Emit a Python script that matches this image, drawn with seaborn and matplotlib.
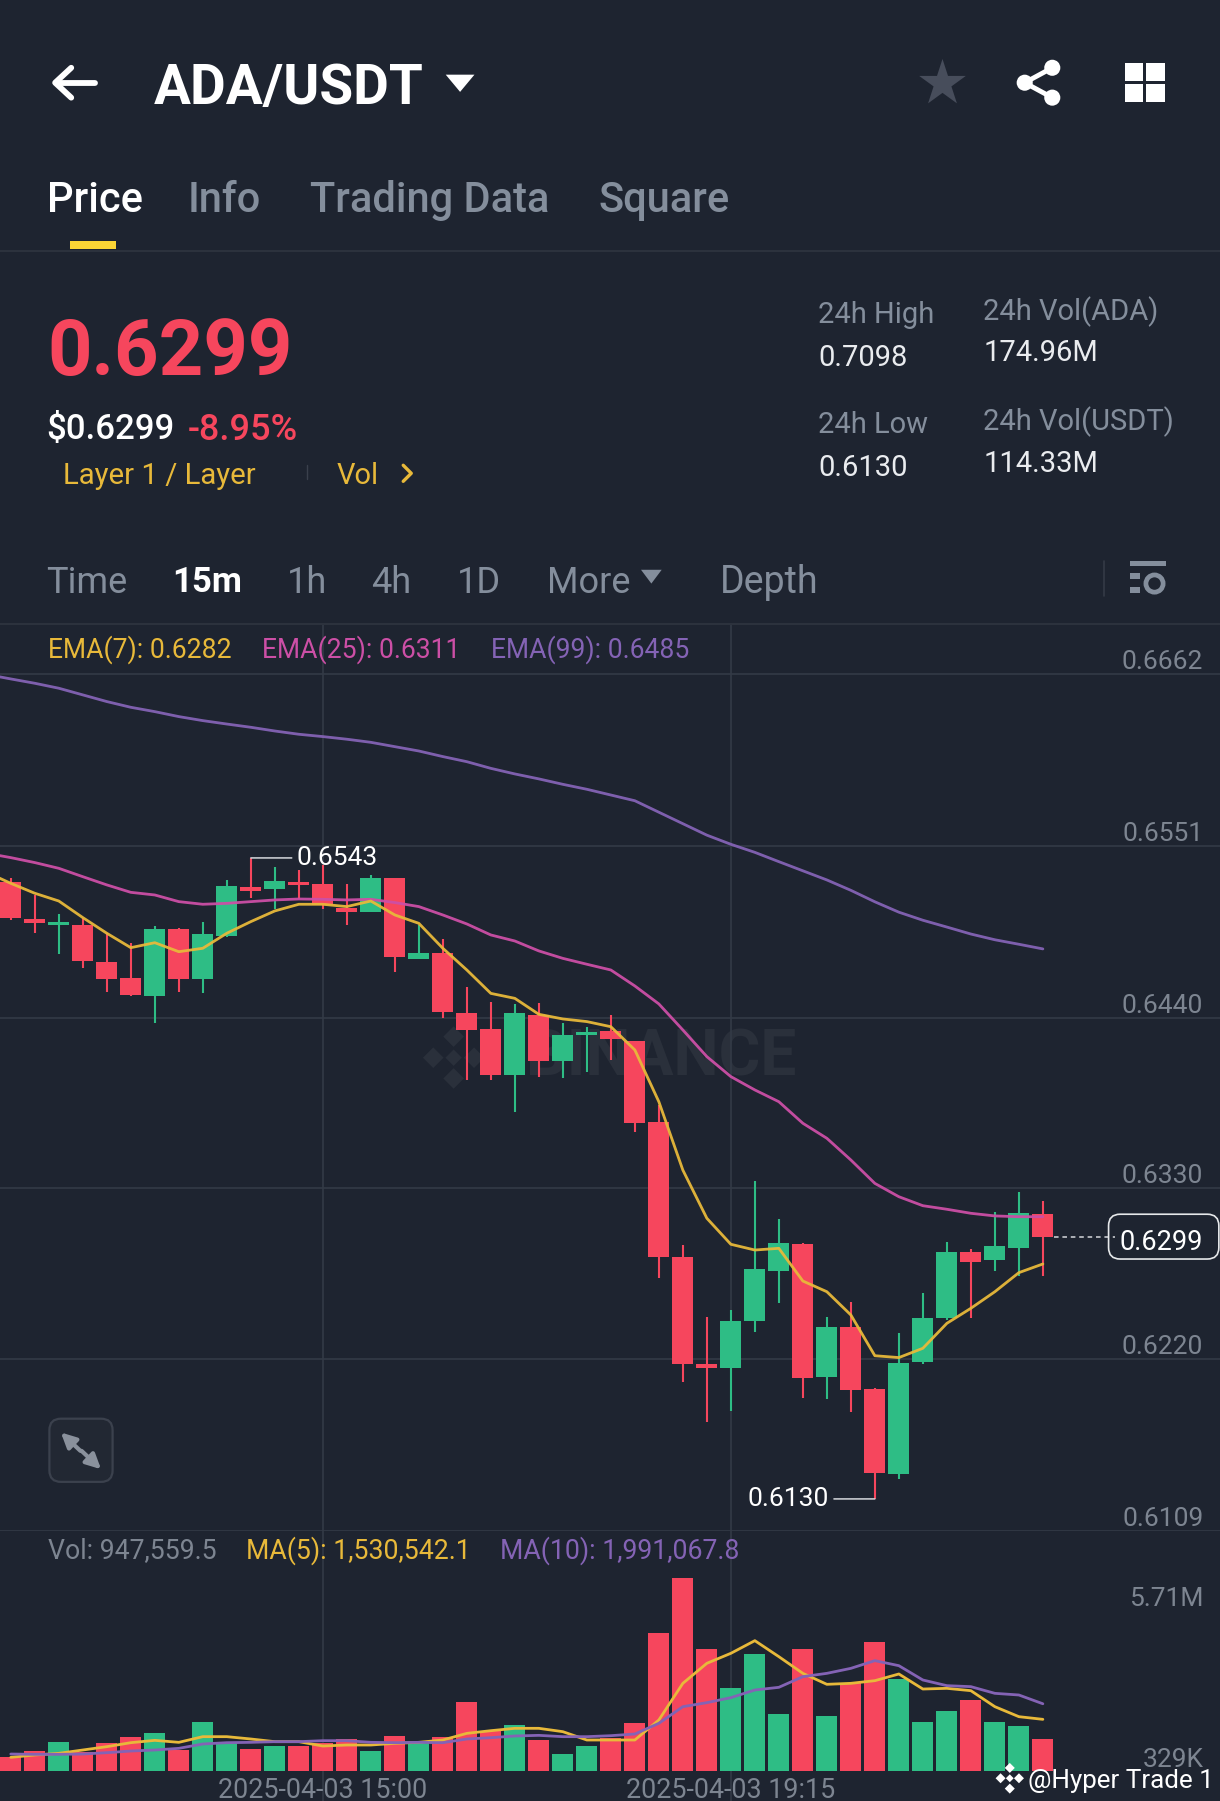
import numpy as np
import pandas as pd
import seaborn as sns
import matplotlib
matplotlib.use("Agg")
import matplotlib.pyplot as plt
from matplotlib.patches import Circle, FancyBboxPatch, Polygon, Rectangle
from matplotlib.transforms import ScaledTranslation

# ---------- data ----------
direction = ["d","d","u","d","d","d","u","d","u","u","d","u","d","d","d","u","d","u","d","d","d","u",
             "d","u","u","d","d","d","d","d","u","u","u","d","u","d","d","u","u","u","d","u","u","d"]
high = [.65302,.65194,.65071,.65043,.64947,.64882,.64994,.64983,.65022,.65291,.65433,.65373,.65355,.65388,
        .65265,.65323,.65302,.65000,.64910,.64603,.64501,.64491,.64495,.64366,.64340,.64420,
        .64252,.63839,.62936,.62473,.62516,.63349,.63101,.62951,.62469,.62570,.62015,.62366,.62628,.62957,
        .62907,.63146,.63280,.63219]
body_top = [.65280,.65041,.65022,.65000,.64760,.64661,.64973,.64973,.64940,.65254,.65244,.65282,.65280,.65263,
            .65108,.65302,.65302,.64822,.64822,.64430,.64327,.64430,.64420,.64291,.64312,.64319,
            .64252,.63729,.62858,.62166,.62447,.62779,.62951,.62940,.62409,.62409,.62006,.62176,.62467,.62888,
            .62888,.62929,.63140,.63138]
body_bottom = [.65043,.65011,.65000,.64770,.64650,.64549,.64542,.64650,.64650,.64932,.65222,.65231,.65259,.65130,
               .65082,.65082,.64792,.64781,.64441,.64321,.64033,.64033,.64123,.64123,.64291,.64263,
               .63721,.62860,.62168,.62140,.62140,.62447,.62770,.62075,.62086,.62000,.61466,.61458,.62178,.62467,
               .62828,.62839,.62918,.62989]
low = [.65033,.64951,.64811,.64721,.64570,.64542,.64370,.64570,.64559,.64925,.65173,.65102,.65166,.65102,
       .65000,.65082,.64699,.64781,.64398,.64000,.64000,.63792,.64022,.64011,.64054,.64129,
       .63667,.62720,.62054,.61796,.61867,.62376,.62559,.61946,.61940,.61856,.61297,.61426,.62168,.62452,
       .62467,.62770,.62735,.62735]
volume_m = [.405,.582,.869,.573,.819,1.017,1.125,.622,1.451,.819,.661,.750,.740,.839,.938,.602,1.037,.839,.997,
            2.043,1.194,1.352,.918,.503,.750,.967,1.422,4.077,5.71,3.613,2.468,3.455,1.678,3.613,1.639,2.596,
            3.830,2.715,1.441,1.777,2.103,1.461,1.343,.948]
# moving averages: the first value is the candle just off the left edge
ema7 = [.65340,.65269,.65205,.65155,.65048,.64947,.64854,.64886,.64828,.64850,.64947,.65022,.65091,.65134,.65134,
        .65119,.65155,.65065,.65011,.64850,.64710,.64559,.64527,.64424,.64394,.64377,.64344,.64194,.63860,.63419,
        .63108,.62940,.62903,.62914,.62703,.62634,.62484,.62221,.62209,.62269,.62430,.62527,.62634,.62757,.62813]
ema25 = [.65463,.65435,.65403,.65366,.65312,.65259,.65211,.65194,.65151,.65134,.65140,.65151,.65162,.65168,.65166,
         .65162,.65166,.65145,.65119,.65065,.65007,.64936,.64897,.64833,.64785,.64747,.64710,.64607,.64491,.64323,
         .64151,.64022,.63936,.63860,.63721,.63624,.63484,.63333,.63247,.63189,.63166,.63140,.63123,.63118,.63118]
ema99 = [.66617,.66588,.66560,.66528,.66485,.66442,.66405,.66377,.66345,.66319,.66297,.66276,.66252,.66231,.66216,
         .66199,.66179,.66151,.66123,.66087,.66054,.66011,.65975,.65943,.65908,.65876,.65839,.65802,.65728,.65654,
         .65580,.65521,.65469,.65409,.65350,.65291,.65224,.65150,.65083,.65031,.64987,.64942,.64905,.64876,.64846]
ma5 = [.405,.474,.523,.622,.721,.839,.908,.849,1.017,1.017,.948,.869,.869,.740,.770,.770,.819,.849,.918,1.115,1.194,
       1.264,1.264,1.165,.918,.918,.918,1.510,2.596,3.189,3.485,3.860,3.386,2.892,2.567,2.596,2.675,2.873,2.428,
       2.448,2.379,1.905,1.609,1.530]
ma10 = [.503,.494,.494,.503,.543,.592,.622,.671,.800,.839,.849,.869,.869,.898,.898,.849,.839,.849,.839,.948,.987,
        1.037,1.056,1.017,1.017,1.046,1.096,1.412,1.905,2.024,2.172,2.399,2.478,2.794,2.892,3.040,3.268,3.119,2.695,
        2.527,2.498,2.300,2.251,1.991]
price_ticks = [.6662,.6551,.6440,.6330,.6220,.6109]
price_tick_labels = ["0.6662","0.6551","0.6440","0.6330","0.6220","0.6109"]
volume_ticks = [5.71,.329]
volume_tick_labels = ["5.71M","329K"]
time_ticks = [13,30]
time_tick_labels = ["2025-04-03 15:00","2025-04-03 19:15"]
last_price = .6299

# ---------- colours ----------
BG="#1e2430"; GRID="#333a46"; GREY="#848e9c"; LABEL="#7d8591"; RED="#f6465d"; GREEN="#2ebd85"
YEL="#e8b93a"; PINK="#cc4fa6"; PUR="#8463b5"; ICON="#474d5b"

sns.set_theme(style="dark", rc={"axes.facecolor":"none","figure.facecolor":BG,"savefig.facecolor":BG})
FONT=["Roboto","DejaVu Sans"]
plt.rcParams["font.family"]=FONT

fig=plt.figure(figsize=(12.2,18.01),dpi=100)
W,H=1220,1801
def axes_px(top,bottom):
    return fig.add_axes([0,1-bottom/H,1,(bottom-top)/H])

idx=np.arange(len(high))
# ---------- price panel ----------
ax=axes_px(625,1531)
ax.set_xlim(-.45,50.38); ax.set_ylim(.6109,.66936)
ax.text(21.45,.64144,"BINANCE",color="#2a303b",fontsize=46,fontweight="bold",ha="left",va="center",zorder=0.5)
ax.scatter([17.6,18.45,18.45,19.3,18.45],[.64144,.6428,.6401,.64144,.64144],marker="D",s=[110,110,110,110,70],color="#2a303b",linewidths=0,zorder=0.5)
colors=[GREEN if d=="u" else RED for d in direction]
ax.vlines(idx,low,high,colors=colors,linewidth=1.5,zorder=2)
ax.bar(idx,np.array(body_top)-np.array(body_bottom),bottom=body_bottom,width=.88,color=colors,linewidth=0,zorder=2)
line_x=np.arange(-1,len(high))
for vals,c in [(ema99,PUR),(ema25,PINK),(ema7,YEL)]:
    sns.lineplot(data=pd.DataFrame({"i":line_x,"p":vals}),x="i",y="p",color=c,linewidth=2.0,errorbar=None,ax=ax,zorder=3,alpha=.95)
ax.annotate("0.6543",xy=(10,high[10]),xytext=(11.9,high[10]),color="white",fontsize=19,va="center",ha="left",
            arrowprops=dict(arrowstyle="-",color="#d5d8dc",lw=1.1,shrinkA=1,shrinkB=0),zorder=5)
ax.annotate("0.6130",xy=(36,low[36]),xytext=(34.1,low[36]),color="white",fontsize=19,va="center",ha="right",
            arrowprops=dict(arrowstyle="-",color="#d5d8dc",lw=1.1,shrinkA=1,shrinkB=0),zorder=5)
ax.plot([43.45,46.0],[last_price,last_price],color="#d5d8dc",lw=1.1,ls=(0,(3,2.5)),zorder=4)
ax.annotate("0.6299",xy=(.9859,last_price),xycoords=ax.get_yaxis_transform(),xytext=(0,-4.5),textcoords="offset points",
            color="white",fontsize=19.5,ha="right",va="center",zorder=7)
ax.set_xticks(time_ticks); ax.set_xticklabels([])
ax.set_yticks(price_ticks); ax.set_yticklabels(price_tick_labels)
ax.yaxis.tick_right()
ax.tick_params(axis="y",length=0,pad=-12,labelsize=19,labelcolor=LABEL,labelright=True,labelleft=False)
ax.tick_params(axis="x",length=0)
for t in ax.get_yticklabels():
    t.set_ha("right"); t.set_va("bottom")
ax.grid(True,color=GRID,lw=1.2); ax.set_axisbelow(True)
ax.set_xlabel(""); ax.set_ylabel("")
for s in ax.spines.values(): s.set_visible(False)

# ---------- volume panel ----------
av=axes_px(1531,1801)
vol_df=pd.DataFrame({"i":idx,"v":volume_m,"dir":direction})
sns.barplot(data=vol_df,x="i",y="v",hue="dir",palette={"u":GREEN,"d":RED},dodge=False,native_scale=True,width=.875,
            saturation=1,legend=False,ax=av,linewidth=0,zorder=2)
for vals,c in [(ma5,YEL),(ma10,PUR)]:
    sns.lineplot(data=pd.DataFrame({"i":idx,"v":vals}),x="i",y="v",color=c,linewidth=2.0,errorbar=None,ax=av,zorder=3)
av.set_xlim(-.45,50.38); av.set_ylim(-.888,7.107)
av.set_xticks(time_ticks); av.set_xticklabels(time_tick_labels)
av.set_yticks(volume_ticks); av.set_yticklabels(volume_tick_labels)
av.yaxis.tick_right()
av.tick_params(axis="y",length=0,pad=-12,labelsize=19,labelcolor=LABEL,labelright=True,labelleft=False)
av.tick_params(axis="x",length=0,pad=-17,labelsize=19.4,labelcolor=LABEL)
labels=av.get_yticklabels()
for t in labels:
    t.set_ha("right"); t.set_va("center")
labels[0].set_va("top")
labels[0].set_transform(labels[0].get_transform()+ScaledTranslation(0,-6.5/72,fig.dpi_scale_trans))
av.grid(False); av.xaxis.grid(True,color=GRID,lw=1.2); av.set_axisbelow(True)
av.set_xlabel(""); av.set_ylabel("")
for s in av.spines.values(): s.set_visible(False)

# ---------- app chrome, in the coordinates of a 1062 wide view ----------
ui=fig.add_axes([0,0,1,1],zorder=10)
ui.set_xlim(0,1062); ui.set_ylim(1567.8,0); ui.axis("off")
def T(x,y,s,c=GREY,fs=20,w="normal",ha="left"):
    ui.text(x,y,s,color=c,fontsize=fs,fontweight=w,ha=ha,va="center_baseline")
# header
ui.plot([50,83],[72,72],color="white",lw=4.2,solid_capstyle="round")
ui.plot([62,48,62],[59,72,85],color="white",lw=4.2,solid_capstyle="round",solid_joinstyle="round")
T(134,73,"ADA/USDT","white",39.5,"bold")
ui.add_patch(Polygon([(388,65),(413,65),(400.5,80)],closed=True,color="white",lw=0,joinstyle="round"))
ui.scatter([820],[72],marker="*",s=1250,color=ICON,linewidths=0)
for cx,cy in [(916,59),(892,72),(916,85)]:
    ui.add_patch(Circle((cx,cy),7,color="white",lw=0))
ui.plot([916,892,916],[59,72,85],color="white",lw=3.5)
for x0,y0 in [(979,55),(998,55),(979,73),(998,73)]:
    ui.add_patch(Rectangle((x0,y0),16,15.5,color="white",lw=0))
# tabs
T(41,171,"Price","white",30,"medium")
T(163,171,"Info",GREY,30,"medium")
T(270,171,"Trading Data",GREY,30,"medium")
T(521,171,"Square",GREY,30,"medium")
ui.add_patch(Rectangle((61,210),40,7,color="#fcd535",lw=0))
for y in [218.5,543]:
    ui.plot([0,1062],[y,y],color="#2e343f",lw=1.3)
# stats
T(41,301,"0.6299",RED,56,"bold")
T(40,371,"$0.6299","white",25,"medium")
T(163,371,"-8.95%",RED,26,"medium")
T(55,412,"Layer 1 / Layer",YEL,21.2)
ui.plot([267,267],[405,417],color="#3a404c",lw=1)
T(293,412,"Vol",YEL,21)
ui.plot([351,358,351],[405,412,419],color=YEL,lw=2.4)
T(712,272,"24h High",GREY,21); T(712,309,"0.7098","#eaecef",21)
T(712,367,"24h Low",GREY,21); T(712,405,"0.6130","#eaecef",21)
T(856,268,"24h Vol(ADA)",GREY,21); T(856,305,"174.96M","#eaecef",21)
T(856,364,"24h Vol(USDT)",GREY,21); T(856,401,"114.33M","#eaecef",21)
# intervals
T(40,504,"Time",GREY,26)
T(150,504,"15m","white",25,"bold")
T(250,504,"1h",GREY,26); T(323,504,"4h",GREY,26); T(398,504,"1D",GREY,26)
T(476,504,"More",GREY,26)
ui.add_patch(Polygon([(558,496),(576,496),(567,508)],closed=True,color=GREY,lw=0))
T(627,504,"Depth",GREY,27)
ui.plot([961,961],[488,519],color="#343a46",lw=1.2)
ui.add_patch(Rectangle((984,488),31,5,color=GREY,lw=0))
ui.add_patch(Rectangle((984,499),8,5,color=GREY,lw=0))
ui.add_patch(Rectangle((984,511),8,5,color=GREY,lw=0))
ui.add_patch(Circle((1005,508),7.5,facecolor="none",edgecolor=GREY,lw=3.4))
# legends
T(42,563,"EMA(7): 0.6282",YEL,19.1); T(228,563,"EMA(25): 0.6311",PINK,19.1); T(427,563,"EMA(99): 0.6485",PUR,19.1)
T(42,1347,"Vol: 947,559.5",LABEL,19.2); T(214,1347,"MA(5): 1,530,542.1",YEL,19.2); T(435,1347,"MA(10): 1,991,067.8",PUR,19.2)
# current price box
ui.add_patch(FancyBboxPatch((969,1061),88,31,boxstyle="round,pad=4,rounding_size=10",facecolor="none",edgecolor="#e6e8ea",lw=1.2))
# expand button
ui.add_patch(FancyBboxPatch((47,1239),47,47,boxstyle="round,pad=4,rounding_size=10",facecolor="#222833",edgecolor="#3b414d",lw=1.6))
ui.annotate("",xy=(53,1247),xytext=(70,1263),arrowprops=dict(arrowstyle="-|>",color="#8a919c",lw=3,shrinkA=0,shrinkB=0,mutation_scale=22))
ui.annotate("",xy=(88,1279),xytext=(71,1263),arrowprops=dict(arrowstyle="-|>",color="#8a919c",lw=3,shrinkA=0,shrinkB=0,mutation_scale=22))
# overlay mark
ui.scatter([879,871,887,879,879],[1539,1548,1548,1557,1548],marker="D",s=[26,26,26,26,16],color="white",linewidths=0)
T(895,1548,"@Hyper Trade 1","white",18.7)

fig.savefig("out.png",dpi=100)
